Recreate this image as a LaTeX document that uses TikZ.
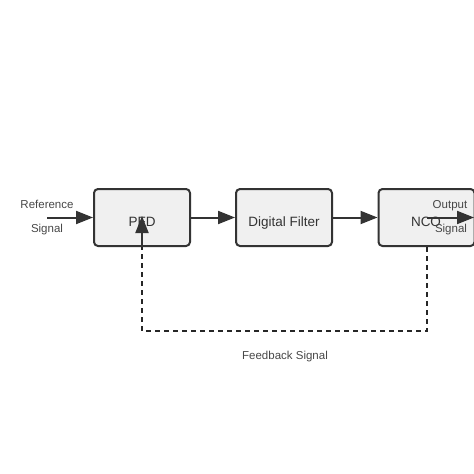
\documentclass[tikz,border=0pt]{standalone}
\usepackage{fontspec}
\setmainfont{Liberation Sans}
\usetikzlibrary{arrows.meta}
\definecolor{boxfill}{HTML}{F0F0F0}
\definecolor{ink}{HTML}{333333}
\tikzset{
  block/.style={draw=ink, fill=boxfill, line width=2pt, rounded corners=4pt,
    minimum width=96pt, minimum height=57pt, inner sep=0pt},
  btext/.style={text=ink, font=\fontsize{13.5}{15}\selectfont, text height=10pt, text depth=3pt, inner sep=0pt},
  conn/.style={draw=ink, line width=2pt, -{Triangle[length=17pt,width=13pt]}},
  fb/.style={draw=black!85, line width=2pt, dash pattern=on 5pt off 4pt},
  lbl/.style={text=ink!90, font=\fontsize{11.5}{13}\selectfont, inner sep=0pt, text height=8.5pt, text depth=2.5pt}
}
\begin{document}
\begin{tikzpicture}[x=1pt,y=-1pt]
\useasboundingbox (0,0) rectangle (474,474);
\clip (0,0) rectangle (474,474);
\node[block] (pfd) at (142,217.5) {};
\node[block] (df) at (284,217.5) {};
\node[block] (nco) at (426.5,217.5) {};
\node[btext] (pfdt) at (142,223) {PFD};
\node[btext] (dft) at (284,223) {Digital Filter};
\node[btext] (ncot) at (426,223) {NCO};
\coordinate (in) at (47,217.5);
\coordinate (out) at (474,217.5);
\coordinate (fbr) at (426.5,331);
\coordinate (fbl) at (142,331);
\node[lbl] (ref1) at (47,205) {Reference};
\node[lbl] (ref2) at (47,229) {Signal};
\node[lbl] (out1) at (450,205) {Output};
\node[lbl] (out2) at (451,229) {Signal};
\node[lbl] (fbt) at (285,356.5) {Feedback Signal};
\draw[conn] (in) -- (pfd.west);
\draw[conn] (pfd.east) -- (df.west);
\draw[conn] (df.east) -- (nco.west);
\draw[conn] (nco.center) -- (out);
\draw[fb] (nco.south) -- (fbr) -- (fbl) -- (pfd.south);
\draw[conn] (pfd.south) -- (142,216);
\end{tikzpicture}
\end{document}
